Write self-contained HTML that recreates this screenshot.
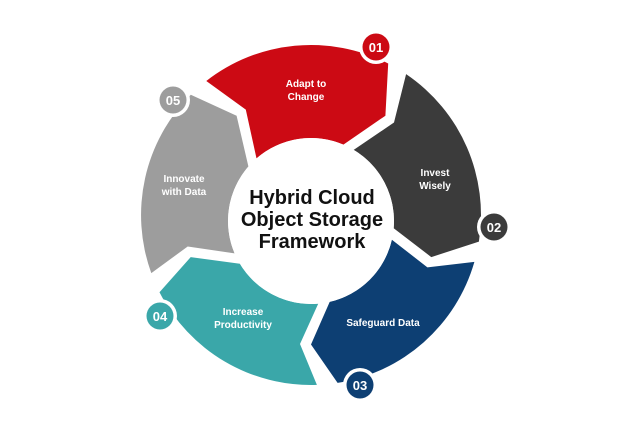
<!DOCTYPE html>
<html><head><meta charset="utf-8"><style>
html,body{margin:0;padding:0;background:#fff;}
svg{display:block;}
</style></head><body>
<svg id="s" width="618" height="427" viewBox="0 0 618 427" xmlns="http://www.w3.org/2000/svg">
<g id="segs"></g>
<circle cx="311" cy="221" r="83" fill="#fff"/>
<g font-family="Liberation Sans, Arial, sans-serif" font-weight="bold" text-anchor="middle" fill="#111" font-size="20">
<text x="312" y="204">Hybrid Cloud</text>
<text x="312" y="226">Object Storage</text>
<text x="312" y="248">Framework</text>
</g>
<g font-family="Liberation Sans, Arial, sans-serif" font-weight="bold" text-anchor="middle" fill="#fff" font-size="10">
<text x="306" y="87">Adapt to</text><text x="306" y="100">Change</text>
<text x="435" y="176">Invest</text><text x="435" y="189">Wisely</text>
<text x="383" y="326">Safeguard Data</text>
<text x="243" y="315">Increase</text><text x="243" y="328">Productivity</text>
<text x="184" y="182">Innovate</text><text x="184" y="195">with Data</text>
</g>
<g id="badges" font-family="Liberation Sans, Arial, sans-serif" font-weight="bold" text-anchor="middle" fill="#fff" font-size="13"></g>
</svg>
<script>
var cx=311,cy=215,R=170,icy=221,r=83;
var cols=["#cc0a14","#3b3b3b","#0d3f73","#3aa7a9","#9d9d9d"];
function p(a,rad,yc){var t=(a-90)*Math.PI/180;return [(cx+rad*Math.cos(t)).toFixed(1),(yc+rad*Math.sin(t)).toFixed(1)];}
var g=document.getElementById('segs'),out='';
var m=(R+r)/2,mcy=(cy+icy)/2;
for(var k=0;k<5;k++){
 var T=-38+72*k,B=T+65;
 var o0=p(T,R,cy),n0=p(T+7,m,mcy),i0=p(T-3,r,icy);
 var o1=p(B,R,cy),t1=p(B+9,m,mcy),i1=p(B-4,r,icy);
 var d='M'+o0+' A'+R+' '+R+' 0 0 1 '+o1+' L'+t1+' L'+i1+' A'+r+' '+r+' 0 0 0 '+i0+' L'+n0+' Z';
 out+='<path d="'+d+'" fill="'+cols[k]+'"/>';
}
g.innerHTML=out;
var bp=[[376,47],[494,227],[360,385],[160,316],[173,100]],lb=["01","02","03","04","05"],bo='';
for(var k=0;k<5;k++){
 bo+='<circle cx="'+bp[k][0]+'" cy="'+bp[k][1]+'" r="17" fill="#fff"/><circle cx="'+bp[k][0]+'" cy="'+bp[k][1]+'" r="13.5" fill="'+cols[k]+'"/><text x="'+bp[k][0]+'" y="'+(bp[k][1]+5)+'">'+lb[k]+'</text>';
}
document.getElementById('badges').innerHTML=bo;
</script>
</body></html>
